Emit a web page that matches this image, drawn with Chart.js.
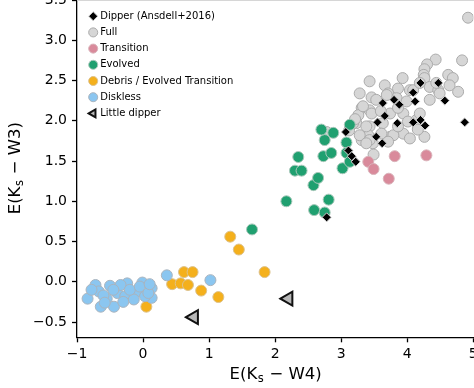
<!DOCTYPE html>
<html>
<head>
<meta charset="utf-8">
<script src="https://cdn.jsdelivr.net/npm/chart.js@4.4.1/dist/chart.umd.min.js"></script>
<style>
  html, body { margin: 0; padding: 0; background: #fff; overflow: hidden; }
  #wrap { position: relative; width: 474px; height: 388px; overflow: hidden; }
  #c { position: absolute; left: 0; top: -20px; }
</style>
</head>
<body>
<div id="wrap"><canvas id="c" width="500" height="410"></canvas></div>
<script>
// DATA  [E(Ks - W4), E(Ks - W3)]
const dipper = [[2.78,0.80],[3.07,1.86],[3.11,1.63],[3.16,1.56],[3.22,1.49],[3.53,1.80],[3.62,1.72],[3.66,2.06],
  [3.55,1.98],[3.85,1.97],[4.09,1.98],[4.20,2.01],[4.27,1.94],[4.87,1.98],[3.63,2.22],[3.80,2.26],[3.88,2.20],
  [4.12,2.24],[4.57,2.25],[4.20,2.47],[4.47,2.47],[4.09,2.35]];
const full = [[4.92,3.28],[4.83,2.75],[4.43,2.76],[4.30,2.70],[4.26,2.64],[4.25,2.57],[4.62,2.57],[4.69,2.53],[4.77,2.36],
  [3.43,2.49],[3.66,2.44],[3.93,2.53],[3.86,2.40],[3.71,2.34],[4.04,2.38],[4.26,2.53],[4.34,2.42],[4.47,2.38],[4.64,2.44],
  [3.46,2.29],[3.53,2.26],[3.31,2.16],[3.26,2.07],[3.43,2.13],[3.23,1.97],[3.43,1.93],[3.74,1.80],[3.94,1.84],[4.16,1.91],
  [4.26,1.80],[3.28,2.34],[3.84,2.28],[3.99,2.24],[4.34,2.26],[4.49,2.34],[3.33,2.18],[3.46,2.09],[3.74,2.09],[3.94,2.09],
  [3.18,1.97],[3.63,1.97],[4.01,1.99],[4.14,2.01],[4.04,1.78],[3.79,1.82],[3.61,1.84],[3.41,1.82],[3.31,1.76],[3.48,1.72],
  [3.71,1.74],[3.49,1.58],[2.78,1.86],[3.28,1.82],[4.19,2.09],[3.38,1.93],[3.86,1.93],[4.09,2.38],[4.19,2.47],[4.44,2.47],
  [3.69,2.32],[3.21,2.02],[3.86,2.16],[4.16,1.89],[3.60,2.12],[3.12,1.88],[3.43,1.76],[3.38,1.72]];
const transition = [[3.41,1.49],[3.49,1.40],[3.72,1.28],[3.81,1.56],[4.29,1.57]];
const evolved = [[1.65,0.65],[2.35,1.55],[2.30,1.38],[2.40,1.38],[2.17,1.00],[2.58,1.20],[2.65,1.29],[2.59,0.89],
  [2.81,1.02],[2.75,0.86],[2.73,1.56],[2.85,1.60],[3.02,1.41],[2.75,1.76],[2.70,1.89],[2.88,1.85],[3.08,1.73],
  [3.13,1.95],[3.08,1.60],[3.13,1.49]];
const debris = [[1.32,0.56],[1.45,0.40],[1.84,0.12],[0.62,0.12],[0.75,0.12],[0.44,-0.03],[0.57,-0.02],[0.68,-0.04],
  [0.88,-0.11],[1.14,-0.19],[0.05,-0.31]];
const diskless = [[-0.84,-0.21],[-0.72,-0.04],[-0.64,-0.31],[-0.50,-0.05],[-0.55,-0.21],[-0.39,-0.14],[-0.24,-0.02],
  [-0.27,-0.18],[-0.09,-0.12],[-0.01,-0.01],[0.13,-0.08],[0.13,-0.20],[-0.44,-0.31],[-0.14,-0.22],[-0.67,-0.12],
  [0.03,-0.18],[-0.34,-0.04],[-0.60,-0.17],[-0.45,-0.10],[-0.20,-0.10],[-0.05,-0.06],[0.08,-0.14],[-0.30,-0.25],
  [-0.58,-0.26],[0.10,-0.03],[-0.78,-0.10],[0.36,0.08],[1.02,0.02]];
const littleDipper = [[0.77,-0.44],[2.20,-0.21]];

const xTicks = [-1, 0, 1, 2, 3, 4, 5];
const yTicks = [-0.5, 0, 0.5, 1, 1.5, 2, 2.5, 3, 3.5];
const xMin = -1, xMax = 5, yMin = -0.69, yMax = 3.5;

Chart.defaults.font.family = '"DejaVu Sans", sans-serif';
Chart.defaults.color = '#000';

function pts(arr) { return arr.map(p => ({ x: p[0], y: p[1] })); }
function minus(s) { return s.replace('-', '\u2212'); }

// axis titles with subscript s, like matplotlib mathtext
function subTitle(ctx, pre, sub, post, cx, cy, angle) {
    const big = '16.5px "DejaVu Sans"', small = '11.5px "DejaVu Sans"';
    ctx.save();
    ctx.translate(cx, cy);
    ctx.rotate(angle);
    ctx.fillStyle = '#000';
    ctx.textBaseline = 'middle';
    ctx.font = big;
    const w1 = ctx.measureText(pre).width, w3 = ctx.measureText(post).width;
    ctx.font = small;
    const w2 = ctx.measureText(sub).width;
    let x = -(w1 + w2 + w3) / 2;
    ctx.font = big; ctx.fillText(pre, x, 0); x += w1;
    ctx.font = small; ctx.fillText(sub, x + 0.5, 4); x += w2 + 1;
    ctx.font = big; ctx.fillText(post, x, 0);
    ctx.restore();
}

const extras = {
    id: 'extras',
    afterLayout(chart) {
        // legend sits inside the axes, top left
        const lg = chart.legend, a = chart.chartArea;
        lg.left = a.left + 8;
        lg.top = a.top + 5;
        lg.bottom = lg.top + lg.height;
    },
    afterDraw(chart) {
        const ctx = chart.ctx, a = chart.chartArea;
        ctx.save();
        ctx.strokeStyle = '#d6d6d6';
        ctx.lineWidth = 1;
        ctx.beginPath();
        ctx.moveTo(a.left, a.top + 0.5);
        ctx.lineTo(chart.width, a.top + 0.5);
        ctx.stroke();
        ctx.restore();
        subTitle(ctx, 'E(K', 's', ' \u2212 W4)', (a.left + a.right) / 2, 395, 0);
        subTitle(ctx, 'E(K', 's', ' \u2212 W3)', 16, (a.top + a.bottom) / 2, -Math.PI / 2);
    }
};

const circle = { pointStyle: 'circle', pointRadius: 5.5, pointHoverRadius: 5.5, borderWidth: 1 };

// lower order is drawn on top
new Chart(document.getElementById('c'), {
    type: 'scatter',
    data: {
        datasets: [
            { label: 'Dipper (Ansdell+2016)', data: pts(dipper), order: 0, pointStyle: 'rectRot', pointRadius: 4.5,
              backgroundColor: '#000', borderColor: '#d0d0d0', borderWidth: 1 },
            Object.assign({ label: 'Full', data: pts(full), order: 6,
              backgroundColor: '#d6d6d6', borderColor: '#ababab' }, circle),
            Object.assign({ label: 'Transition', data: pts(transition), order: 5,
              backgroundColor: '#d98a9b', borderColor: '#d9b3ba' }, circle),
            Object.assign({ label: 'Evolved', data: pts(evolved), order: 4,
              backgroundColor: '#20a070', borderColor: '#a8c8ba' }, circle),
            Object.assign({ label: 'Debris / Evolved Transition', data: pts(debris), order: 3,
              backgroundColor: '#f4b01c', borderColor: '#dcc28e' }, circle),
            Object.assign({ label: 'Diskless', data: pts(diskless), order: 2,
              backgroundColor: '#8bc6f0', borderColor: '#aab4be' }, circle),
            { label: 'Little dipper', data: pts(littleDipper), order: 1, pointStyle: 'triangle', rotation: -90,
              pointRadius: 8, backgroundColor: '#b8b8b8', borderColor: '#111', borderWidth: 2 }
        ]
    },
    options: {
        responsive: false,
        animation: false,
        devicePixelRatio: 1,
        layout: { padding: { top: 20, right: 26.7, left: 0, bottom: 0 } },
        plugins: {
            tooltip: { enabled: false },
            legend: {
                position: 'chartArea',
                align: 'start',
                labels: {
                    usePointStyle: true,
                    boxWidth: 4,
                    boxHeight: 6.4,
                    padding: 6.2,
                    color: '#000',
                    font: { size: 10 },
                    sort: (a, b) => a.datasetIndex - b.datasetIndex
                }
            }
        },
        scales: {
            x: {
                type: 'linear',
                min: xMin, max: xMax,
                afterFit: s => { s.height = 52.7; },
                afterBuildTicks: s => { s.ticks = xTicks.map(v => ({ value: v })); },
                grid: { drawOnChartArea: false, tickLength: 5, tickWidth: 1.3, tickColor: '#000' },
                border: { color: '#000', width: 1.3 },
                ticks: { font: { size: 14 }, padding: 4, maxRotation: 0, callback: v => minus(String(v)) }
            },
            y: {
                type: 'linear',
                min: yMin, max: yMax,
                afterFit: s => { s.width = 77; },
                afterBuildTicks: s => { s.ticks = yTicks.map(v => ({ value: v })); },
                grid: { drawOnChartArea: false, tickLength: 5, tickWidth: 1.3, tickColor: '#000' },
                border: { color: '#000', width: 1.3 },
                ticks: { font: { size: 14 }, padding: 5, callback: v => minus(v.toFixed(1)) }
            }
        }
    },
    plugins: [extras]
});
</script>
</body>
</html>
